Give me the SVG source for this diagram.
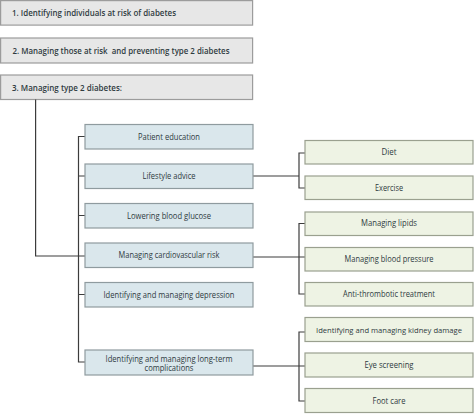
<svg xmlns="http://www.w3.org/2000/svg" width="474" height="414" viewBox="0 0 474 414">
<style>
.top{fill:#e7e7e7;stroke:#9c9c9c;stroke-width:1.2}
.mid{fill:#dae7ec;stroke:#8f9b9f;stroke-width:1.2}
.rt{fill:#eef3e4;stroke:#9aa08f;stroke-width:1.2}
text{font-family:"Open Sans","Liberation Sans",sans-serif;font-size:8.5px;fill:#2f3b3f}
.h{font-weight:600;font-size:8.6px}
.c{text-anchor:middle}
.s{font-size:8px}
.ln{fill:none;stroke:#3c3c3c;stroke-width:1.2}
</style>
<rect width="474" height="414" fill="#ffffff"/>
<g id="top1"><rect class="top" x="0.6" y="0.6" width="252" height="24.5"/><text class="h" x="12" y="15.8" textLength="164" lengthAdjust="spacingAndGlyphs">1. Identifying individuals at risk of diabetes</text></g>
<g id="top2"><rect class="top" x="0.6" y="38" width="252" height="25"/><text class="h" x="12.5" y="53.8" textLength="217" lengthAdjust="spacingAndGlyphs" xml:space="preserve">2. Managing those at risk  and preventing type 2 diabetes</text></g>
<g id="top3"><rect class="top" x="0.6" y="75" width="252" height="24.5"/><text class="h" x="12" y="90.8" textLength="110" lengthAdjust="spacingAndGlyphs">3. Managing type 2 diabetes:</text></g>

<g id="connectors">
<path class="ln" d="M35.6 99.5 V256 H85"/>
<path class="ln" d="M85 136.5 H78.5 V362 H85 M78.5 176 H85 M78.5 215.5 H85 M78.5 294.5 H85"/>
<path class="ln" d="M253 176 H299 M305 153 H299 V188 H305"/>
<path class="ln" d="M253 257 H305 M305 223.5 H299 V294 H305"/>
<path class="ln" d="M253 366 H305 M305 332 H299 V401 H305"/>
</g>

<g id="n-patient"><rect class="mid" x="85" y="124.5" width="168" height="24.5"/><text class="c" x="169" y="139.8" textLength="62" lengthAdjust="spacingAndGlyphs">Patient education</text></g>
<g id="n-lifestyle"><rect class="mid" x="85" y="164" width="168" height="24.5"/><text class="c" x="169" y="179.3" textLength="53" lengthAdjust="spacingAndGlyphs">Lifestyle advice</text></g>
<g id="n-glucose"><rect class="mid" x="85" y="203.5" width="168" height="24.5"/><text class="c" x="169" y="218.8" textLength="84" lengthAdjust="spacingAndGlyphs">Lowering blood glucose</text></g>
<g id="n-cardio"><rect class="mid" x="85" y="243" width="168" height="24.5"/><text class="c" x="169" y="257.8" textLength="101" lengthAdjust="spacingAndGlyphs">Managing cardiovascular risk</text></g>
<g id="n-depression"><rect class="mid" x="85" y="282.5" width="168" height="24.5"/><text class="c" x="169" y="297.8" textLength="131" lengthAdjust="spacingAndGlyphs">Identifying and managing depression</text></g>
<g id="n-longterm"><rect class="mid" x="85" y="350" width="168" height="25"/><text class="c" x="169" y="361.5" textLength="127" lengthAdjust="spacingAndGlyphs">Identifying and managing long-term</text><text class="c" x="169" y="371.2" textLength="49" lengthAdjust="spacingAndGlyphs">complications</text></g>

<g id="n-diet"><rect class="rt" x="305" y="140.5" width="168" height="23.5"/><text class="c" x="389" y="155.3" textLength="15" lengthAdjust="spacingAndGlyphs">Diet</text></g>
<g id="n-exercise"><rect class="rt" x="305" y="176" width="168" height="23.5"/><text class="c" x="389" y="190.5" textLength="28" lengthAdjust="spacingAndGlyphs">Exercise</text></g>
<g id="n-lipids"><rect class="rt" x="305" y="212" width="168" height="23.5"/><text class="c" x="389" y="226.3" textLength="56" lengthAdjust="spacingAndGlyphs">Managing lipids</text></g>
<g id="n-bp"><rect class="rt" x="305" y="247.5" width="168" height="23.5"/><text class="c" x="389" y="261.8" textLength="89" lengthAdjust="spacingAndGlyphs">Managing blood pressure</text></g>
<g id="n-antithrombotic"><rect class="rt" x="305" y="282.5" width="168" height="23.5"/><text class="c" x="389" y="297.3" textLength="92" lengthAdjust="spacingAndGlyphs">Anti-thrombotic treatment</text></g>
<g id="n-kidney"><rect class="rt" x="305" y="317.5" width="168" height="24"/><text class="c s" x="389" y="332.7" textLength="146" lengthAdjust="spacingAndGlyphs">Identifying and managing kidney damage</text></g>
<g id="n-eye"><rect class="rt" x="305" y="353" width="168" height="24"/><text class="c" x="389" y="368.3" textLength="49" lengthAdjust="spacingAndGlyphs">Eye screening</text></g>
<g id="n-foot"><rect class="rt" x="305" y="388.5" width="168" height="24"/><text class="c" x="389" y="403.8" textLength="33" lengthAdjust="spacingAndGlyphs">Foot care</text></g>
</svg>
